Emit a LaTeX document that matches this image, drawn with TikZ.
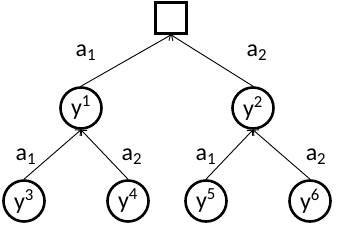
\documentclass[tikz,border=0pt]{standalone}
\usepackage{fontspec}
\setmainfont{Carlito}
\usetikzlibrary{arrows.meta}
\begin{document}
\begin{tikzpicture}[x=1pt,y=-1pt,
  statenode/.style={circle,draw,line width=2.6pt,minimum size=41pt,inner sep=0pt,font=\fontsize{24}{26}\selectfont},
  rootnode/.style={rectangle,draw,line width=2.8pt,minimum size=31pt,inner sep=0pt},
  edge/.style={line width=0.9pt,-{Straight Barb[length=4pt,width=8pt]}},
  lbl/.style={font=\fontsize{24}{26}\selectfont,inner sep=0pt}]
\useasboundingbox (0,0) rectangle (342,231);
\node[rootnode] (r) at (171,18) {};
\node[statenode] (y1) at (81,108) {y\textsuperscript{1}};
\node[statenode] (y2) at (253,108) {y\textsuperscript{2}};
\node[statenode] (y3) at (24,201) {y\textsuperscript{3}};
\node[statenode] (y4) at (128,201) {y\textsuperscript{4}};
\node[statenode] (y5) at (206,201) {y\textsuperscript{5}};
\node[statenode] (y6) at (310,201) {y\textsuperscript{6}};
\draw[edge] (y1.north) -- (r.south);
\draw[edge] (y2.north) -- (r.south);
\draw[edge] (y3.north) -- (y1.south);
\draw[edge] (y4.north) -- (y1.south);
\draw[edge] (y5.north) -- (y2.south);
\draw[edge] (y6.north) -- (y2.south);
\node[lbl] (l1) at (86,53) {a\textsubscript{1}};
\node[lbl] (l2) at (257,53) {a\textsubscript{2}};
\node[lbl] (l3) at (26,157) {a\textsubscript{1}};
\node[lbl] (l4) at (132,157) {a\textsubscript{2}};
\node[lbl] (l5) at (206,157) {a\textsubscript{1}};
\node[lbl] (l6) at (316,157) {a\textsubscript{2}};
\end{tikzpicture}
\end{document}
